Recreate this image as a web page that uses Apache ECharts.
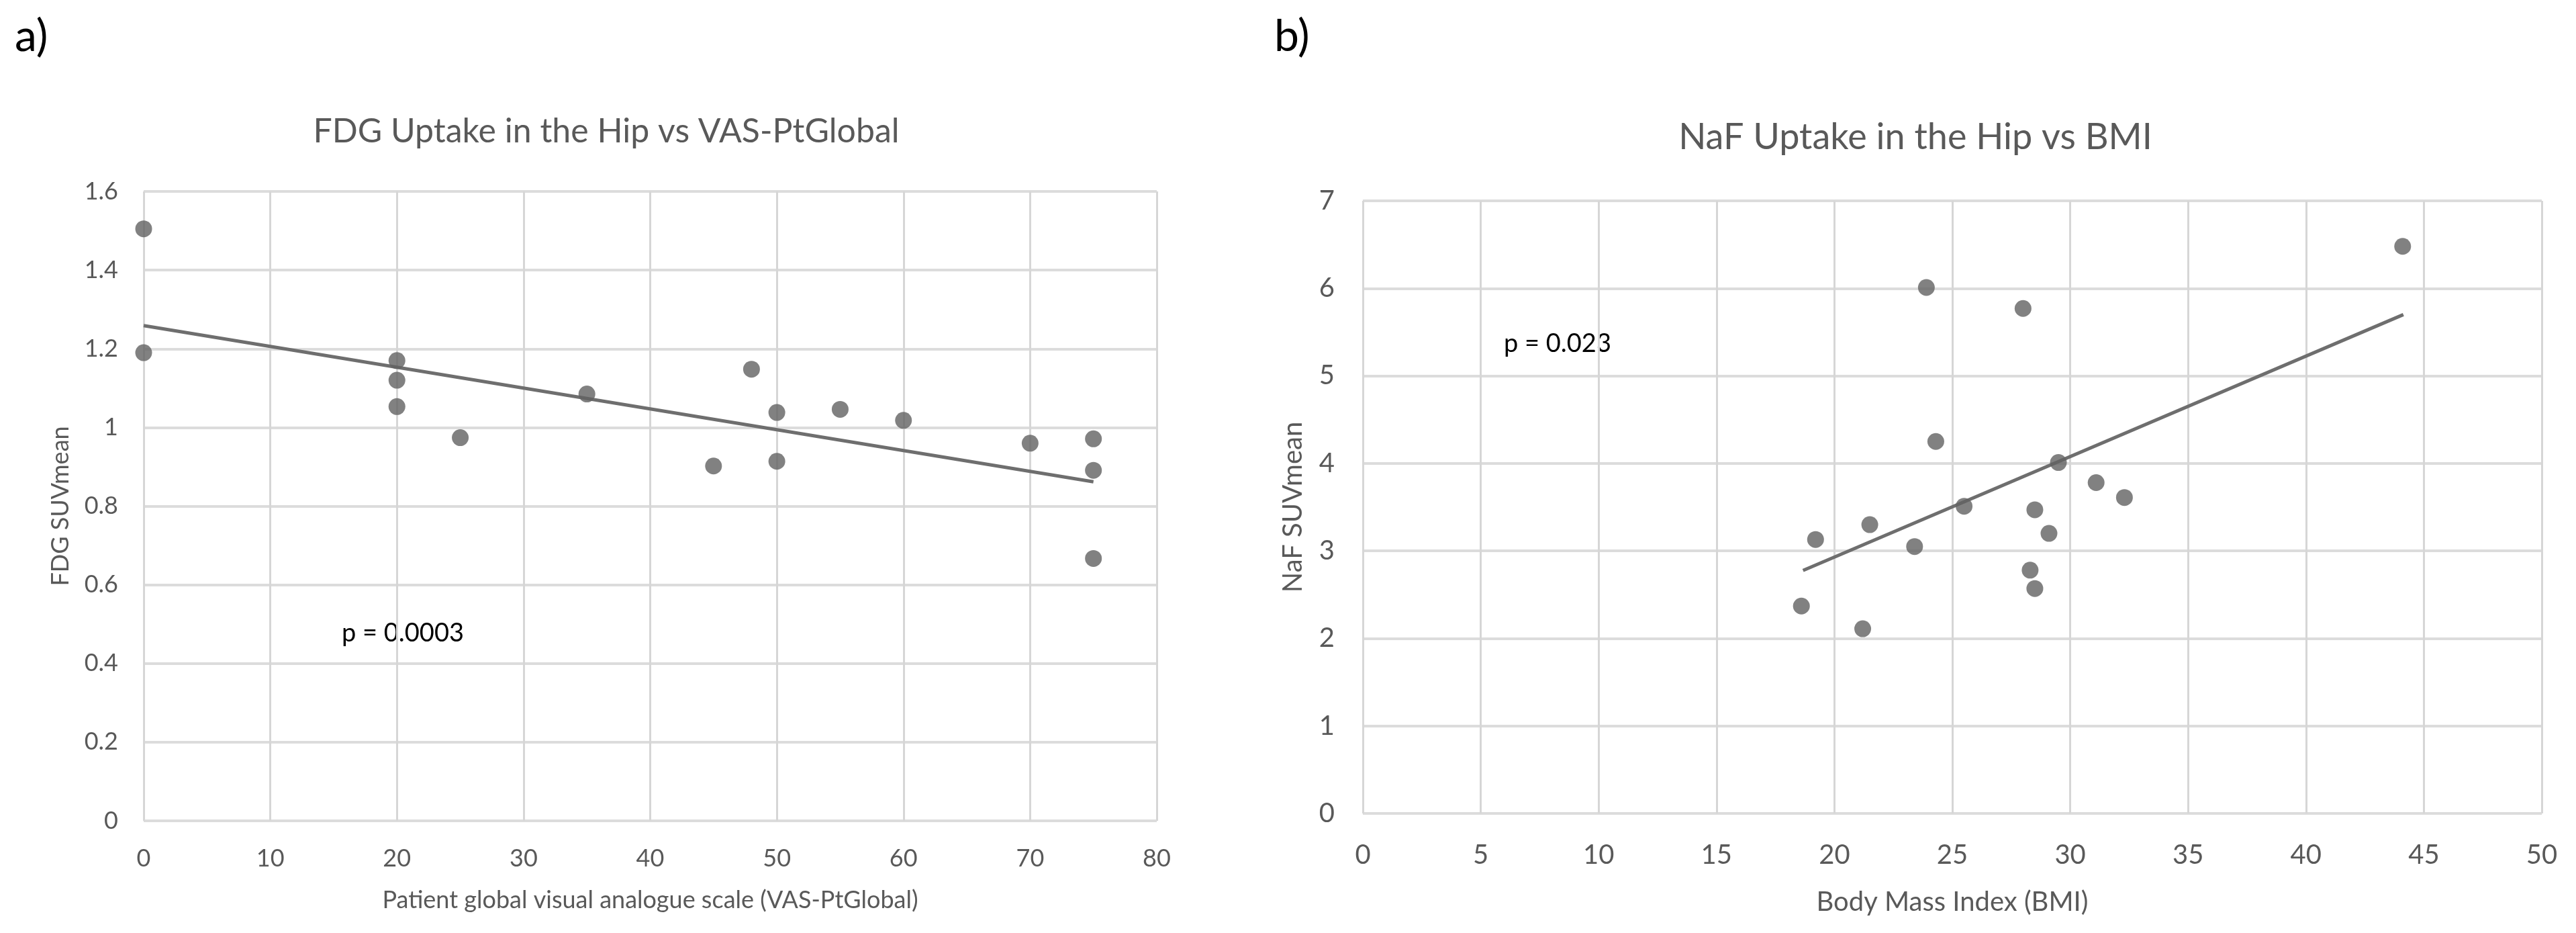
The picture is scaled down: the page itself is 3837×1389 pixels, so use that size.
<!DOCTYPE html>
<html>
<head>
<meta charset="utf-8">
<script src="https://cdn.jsdelivr.net/npm/echarts/dist/echarts.min.js"></script>
<style>
html,body{margin:0;padding:0;background:#fff;}
#c{width:3837px;height:1389px;}
</style>
</head>
<body>
<div id="c"></div>
<script>
// Panel a: FDG Uptake vs VAS-PtGlobal
const vasA = [0, 0, 20, 20, 20, 25, 35, 45, 48, 50, 50, 55, 60, 70, 75, 75, 75];
const fdgA = [1.505, 1.19, 1.17, 1.12, 1.053, 0.974, 1.085, 0.902, 1.148, 1.038, 0.914, 1.046, 1.018, 0.960, 0.971, 0.891, 0.667];
const trendAx = [0, 75];
const trendAy = [1.259, 0.862];

// Panel b: NaF Uptake vs BMI
const bmiB = [44.1, 23.9, 28.0, 24.3, 29.5, 31.1, 32.3, 25.5, 28.5, 29.1, 21.5, 19.2, 23.4, 28.3, 28.5, 18.6, 21.2];
const nafB = [6.48, 6.01, 5.77, 4.25, 4.01, 3.78, 3.61, 3.51, 3.47, 3.20, 3.30, 3.13, 3.05, 2.78, 2.57, 2.37, 2.11];
const trendBx = [18.67, 44.13];
const trendBy = [2.777, 5.70];

const ticksA_x = {min: 0, max: 80, interval: 10};
const ticksA_y = {min: 0, max: 1.6, interval: 0.2};
const ticksB_x = {min: 0, max: 50, interval: 5};
const ticksB_y = {min: 0, max: 7, interval: 1};

const FONT = 'Lato';
const GREY = '#595959';

function pairs(xs, ys){ return xs.map((x,i)=>[x, ys[i]]); }

const chart = echarts.init(document.getElementById('c'), null, {renderer:'canvas'});

function xAxisCfg(grid, t, name, fs, nfs, gap, margin){
  return {
    type:'value', gridIndex:grid, min:t.min, max:t.max, interval:t.interval,
    name:name, nameLocation:'middle', nameGap:gap,
    nameTextStyle:{fontFamily:FONT, fontSize:nfs, color:GREY},
    axisLine:{show:false}, axisTick:{show:false},
    axisLabel:{fontFamily:FONT, fontSize:fs, color:GREY, margin:margin},
    splitLine:{show:true, lineStyle:{color:'#d6d6d6', width:3}}
  };
}
function yAxisCfg(grid, t, name, fs, nfs, gap, margin){
  return {
    type:'value', gridIndex:grid, min:t.min, max:t.max, interval:t.interval,
    name:name, nameLocation:'middle', nameGap:gap,
    nameTextStyle:{fontFamily:FONT, fontSize:nfs, color:GREY},
    axisLine:{show:false}, axisTick:{show:false},
    axisLabel:{fontFamily:FONT, fontSize:fs, color:GREY, margin:margin},
    splitLine:{show:true, lineStyle:{color:'#dcdcdc', width:4}}
  };
}

const option = {
  backgroundColor:'#fff',
  animation:false,
  title:[
    {text:'FDG Uptake in the Hip vs VAS-PtGlobal', left:898, top:166, textAlign:'center',
     textStyle:{fontFamily:FONT, fontSize:50, fontWeight:'normal', color:GREY}},
    {text:'NaF Uptake in the Hip vs BMI', left:2848, top:173, textAlign:'center',
     textStyle:{fontFamily:FONT, fontSize:54, fontWeight:'normal', color:GREY}}
  ],
  grid:[
    {left:214, top:285, width:1509, height:937},
    {left:2030, top:299, width:1756, height:912}
  ],
  xAxis:[
    xAxisCfg(0, ticksA_x, 'Patient global visual analogue scale (VAS-PtGlobal)', 36, 36, 100, 38),
    xAxisCfg(1, ticksB_x, 'Body Mass Index (BMI)', 40, 40, 112, 42)
  ],
  yAxis:[
    yAxisCfg(0, ticksA_y, 'FDG SUVmean', 36, 36, 106, 38),
    yAxisCfg(1, ticksB_y, 'NaF SUVmean', 40, 40, 84, 42)
  ],
  graphic:[
    {type:'text', left:22, top:22, style:{text:'a)', font:'66px Lato', fill:'#000'}},
    {type:'text', left:1898, top:22, style:{text:'b)', font:'66px Lato', fill:'#000'}},
    {type:'text', left:509, top:924, style:{text:'p = 0.0003', font:'38px Lato', fill:'#000'}},
    {type:'text', left:2240, top:493, style:{text:'p = 0.023', font:'38px Lato', fill:'#000'}}
  ],
  series:[
    {type:'line', xAxisIndex:0, yAxisIndex:0, data:pairs(trendAx, trendAy), symbol:'none',
     lineStyle:{color:'#6e6e6e', width:5}, z:2},
    {type:'scatter', xAxisIndex:0, yAxisIndex:0, data:pairs(vasA, fdgA), symbol:'circle', symbolSize:25,
     itemStyle:{color:'#616161'}, z:3},
    {type:'line', xAxisIndex:1, yAxisIndex:1, data:pairs(trendBx, trendBy), symbol:'none',
     lineStyle:{color:'#6e6e6e', width:5}, z:2},
    {type:'scatter', xAxisIndex:1, yAxisIndex:1, data:pairs(bmiB, nafB), symbol:'circle', symbolSize:25,
     itemStyle:{color:'#616161'}, z:3}
  ]
};
chart.setOption(option);
</script>
</body>
</html>
